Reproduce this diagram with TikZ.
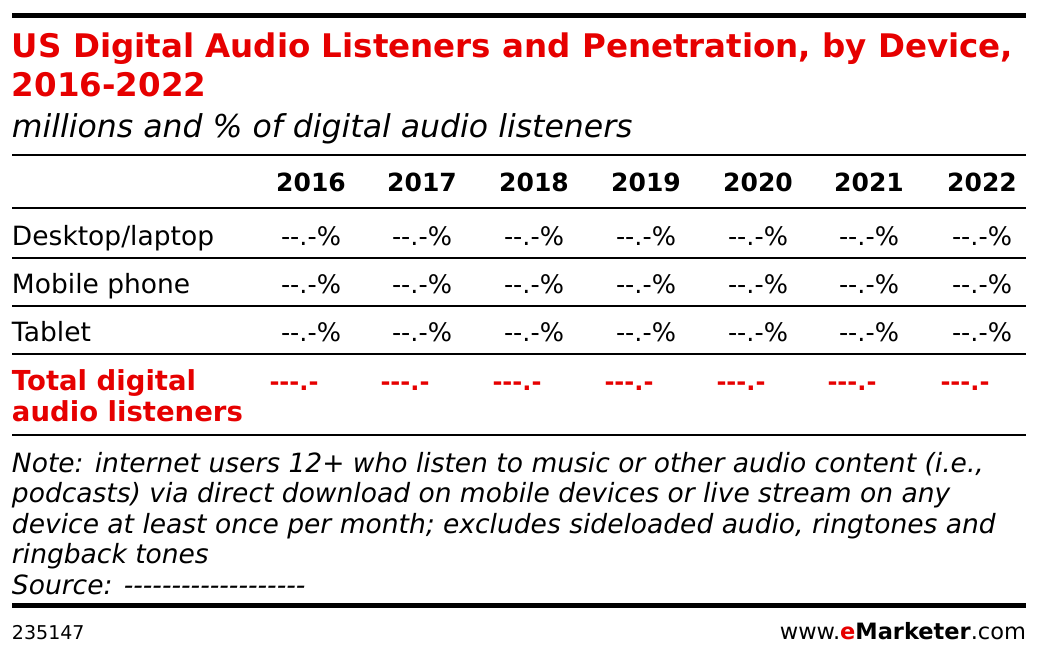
\documentclass[tikz,border=0pt]{standalone}
\usepackage{fontspec}
\setmainfont{DejaVu Sans}
\definecolor{emred}{RGB}{230,0,0}
\begin{document}
\begin{tikzpicture}[x=1pt,y=-1pt,
  every node/.style={inner sep=0pt,outer sep=0pt},
  title/.style={anchor=base west,font=\fontsize{32.5}{36}\selectfont\bfseries,text=emred},
  body/.style={anchor=base west,font=\fontsize{26.5}{30}\selectfont},
  yr/.style={anchor=base,font=\fontsize{25}{30}\selectfont\bfseries},
  val/.style={anchor=base,font=\fontsize{25.5}{30}\selectfont},
  tot/.style={anchor=base west,font=\fontsize{27.5}{30}\selectfont\bfseries,text=emred},
  note/.style={anchor=base west,font=\fontsize{26.5}{30}\selectfont\itshape},
  thick rule/.style={line width=5pt},
  thin rule/.style={line width=1.2pt}]
\useasboundingbox (0,0) rectangle (1038,657);
\draw[thick rule] (12,15) -- (1026,15);
\node[title] (t1) at (12,57) {US Digital Audio Listeners and Penetration, by Device,};
\node[title] (t2) at (12,96) {2016-2022};
\node[anchor=base west,font=\fontsize{31.5}{34}\selectfont\itshape] (st) at (12,137) {millions and \% of digital audio listeners};
\draw[thin rule] (12,155) -- (1026,155);
\draw[thin rule] (12,208) -- (1026,208);
\draw[thin rule] (12,258) -- (1026,258);
\draw[thin rule] (12,306) -- (1026,306);
\draw[thin rule] (12,354) -- (1026,354);
\draw[thin rule] (12,435) -- (1026,435);
\draw[thick rule] (12,605) -- (1026,605);
\foreach \y/\x in {2016/311,2017/422,2018/534,2019/646,2020/758,2021/869,2022/982}{
  \node[yr] (y\y) at (\x,191) {\y};
  \node[val] (a\y) at (\x,245) {-{}-.-\%};
  \node[val] (b\y) at (\x,293) {-{}-.-\%};
  \node[val] (c\y) at (\x,341) {-{}-.-\%};
  \node[anchor=base,font=\fontsize{24}{30}\selectfont\bfseries,text=emred] (d\y) at (\x-17,390) {-{}-{}-.-};
}
\node[body] (r1) at (12,245) {Desktop/laptop};
\node[body] (r2) at (12,293) {Mobile phone};
\node[body] (r3) at (12,341) {Tablet};
\node[tot] (r4) at (12,390) {Total digital};
\node[tot] (r5) at (12,421) {audio listeners};
\node[note] (n1) at (12,472) {Note: internet users 12+ who listen to music or other audio content (i.e.,};
\node[note] (n2) at (12,502) {podcasts) via direct download on mobile devices or live stream on any};
\node[note] (n3) at (12,533) {device at least once per month; excludes sideloaded audio, ringtones and};
\node[note] (n4) at (12,563) {ringback tones};
\node[note] (n5) at (12,594) {Source: -{}-{}-{}-{}-{}-{}-{}-{}-{}-{}-{}-{}-{}-{}-{}-{}-{}-{}-};
\node[anchor=base west,font=\fontsize{19}{24}\selectfont] (id) at (12,639) {235147};
\node[anchor=base east,font=\fontsize{22.5}{24}\selectfont] (em) at (1026,639) {www.{\bfseries\color{emred}e}{\bfseries Marketer}.com};
\end{tikzpicture}
\end{document}
